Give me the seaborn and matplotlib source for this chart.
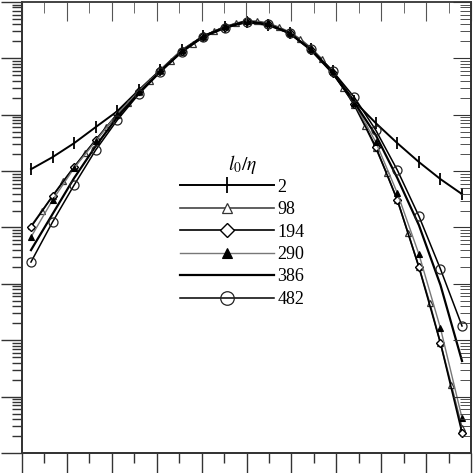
import numpy as np
import pandas as pd
import matplotlib
matplotlib.use('Agg')
import matplotlib.pyplot as plt
import matplotlib.ticker as ticker
import seaborn as sns

# x positions of the markers (coarse grid and the finer grid used by l0/eta = 98)
x_coarse = [-4.8, -4.32, -3.84, -3.36, -2.88, -2.4, -1.92, -1.44, -0.96, -0.48, 0.0,
            0.48, 0.96, 1.44, 1.92, 2.4, 2.88, 3.36, 3.84, 4.32, 4.8]
x_fine = [-4.8, -4.56, -4.32, -4.08, -3.84, -3.6, -3.36, -3.12, -2.88, -2.64, -2.4,
          -2.16, -1.92, -1.68, -1.44, -1.2, -0.96, -0.72, -0.48, -0.24, 0.0,
          0.24, 0.48, 0.72, 0.96, 1.2, 1.44, 1.68, 1.92, 2.16, 2.4,
          2.64, 2.88, 3.12, 3.36, 3.6, 3.84, 4.08, 4.32, 4.56, 4.8]

# pdf values
pdf_2 = [1.08e-3, 1.77e-3, 3.13e-3, 6.03e-3, 1.15e-2, 2.73e-2, 6.18e-2, 0.140, 0.248, 0.357, 0.438,
         0.388, 0.280, 0.146, 0.0593, 0.0174, 7.10e-3, 3.13e-3, 1.45e-3, 7.21e-4, 3.91e-4]
pdf_98 = [1.06e-4, 1.95e-4, 3.61e-4, 6.65e-4, 1.18e-3, 2.08e-3, 3.55e-3, 6.03e-3, 9.84e-3, 1.61e-2,
          2.52e-2, 3.94e-2, 5.93e-2, 8.91e-2, 0.129, 0.179, 0.238, 0.303, 0.357, 0.421, 0.457,
          0.457, 0.421, 0.357, 0.292, 0.219, 0.152, 0.0968, 0.0569, 0.0296, 0.0148,
          6.28e-3, 2.56e-3, 9.23e-4, 3.06e-4, 7.96e-5, 1.99e-5, 4.57e-6, 8.91e-7, 1.61e-7, 2.77e-8]
pdf_194 = [1.02e-4, 3.61e-4, 1.18e-3, 3.55e-3, 1.03e-2, 2.62e-2, 0.0618, 0.134, 0.248, 0.357, 0.457,
           0.404, 0.280, 0.140, 0.0547, 0.0154, 2.67e-3, 3.06e-4, 1.99e-5, 8.91e-7, 2.27e-8]
pdf_290 = [6.76e-5, 3.06e-4, 1.13e-3, 3.40e-3, 1.03e-2, 2.62e-2, 0.0618, 0.140, 0.248, 0.372, 0.457,
           0.421, 0.280, 0.146, 0.0569, 0.0161, 3.27e-3, 4.07e-4, 3.37e-5, 1.64e-6, 4.18e-8]
pdf_386 = [3.97e-5, 1.73e-4, 7.52e-4, 2.77e-3, 9.06e-3, 2.42e-2, 0.0593, 0.134, 0.248, 0.357, 0.457,
           0.404, 0.280, 0.140, 0.0547, 0.0167, 4.35e-3, 7.52e-4, 1.10e-4, 9.53e-6, 4.28e-7]
pdf_482 = [2.44e-5, 1.25e-4, 5.65e-4, 2.36e-3, 8.02e-3, 2.32e-2, 0.0569, 0.129, 0.238, 0.343, 0.438,
           0.404, 0.280, 0.146, 0.0593, 2.05e-2, 5.33e-3, 1.04e-3, 1.59e-4, 1.83e-5, 1.79e-6]

plt.rcParams['mathtext.fontset'] = 'stix'

fig = plt.figure(figsize=(4.74, 4.73), dpi=100)
ax = fig.add_axes([22 / 474, 1 - 453 / 473, 449 / 474, 451 / 473])

# one call per curve, each has its own marker style
sns.lineplot(x=x_coarse, y=pdf_2, ax=ax, color='black', lw=1.4, marker='|',
             markersize=8, markeredgewidth=1.3, markeredgecolor='black', label='2')
sns.lineplot(x=x_fine, y=pdf_98, ax=ax, color='#444444', lw=1.2, marker='^',
             markersize=5, markeredgewidth=0.9, markerfacecolor='white',
             markeredgecolor='#333333', label='98')
sns.lineplot(x=x_coarse, y=pdf_194, ax=ax, color='black', lw=1.2, marker='D',
             markersize=4.5, markeredgewidth=1.0, markerfacecolor='white',
             markeredgecolor='black', label='194')
sns.lineplot(x=x_coarse, y=pdf_290, ax=ax, color='#777777', lw=1.0, marker='^',
             markersize=5, markeredgewidth=0.8, markerfacecolor='black',
             markeredgecolor='black', label='290')
sns.lineplot(x=x_coarse, y=pdf_386, ax=ax, color='black', lw=1.6, label='386')
sns.lineplot(x=x_coarse, y=pdf_482, ax=ax, color='black', lw=1.1, marker='o',
             markersize=6.5, markeredgewidth=0.9, markerfacecolor='none',
             markeredgecolor='#222222', label='482')

ax.set_yscale('log')
ax.set_xlim(-5, 5)
ax.set_ylim(1e-8, 1)
ax.set_xlabel('')
ax.set_ylabel('')

ax.xaxis.set_major_locator(ticker.MultipleLocator(1))
ax.xaxis.set_minor_locator(ticker.MultipleLocator(0.5))
ax.yaxis.set_major_locator(ticker.LogLocator(base=10, numticks=20))
ax.yaxis.set_minor_locator(ticker.LogLocator(base=10, subs=np.arange(2, 10), numticks=100))
ax.tick_params(which='both', direction='out', labelbottom=False, labelleft=False,
               width=1.0, color='#333333')
ax.tick_params(which='major', length=15)
ax.tick_params(which='minor', length=7.5)

# top and right ticks point inward
axt = ax.twiny()
axt.set_xlim(ax.get_xlim())
axt.xaxis.set_major_locator(ticker.MultipleLocator(1))
axt.xaxis.set_minor_locator(ticker.MultipleLocator(0.5))
axt.tick_params(which='both', direction='in', labeltop=False, color='#555555')
axt.tick_params(which='major', length=14)
axt.tick_params(which='minor', length=8)

axr = ax.twinx()
axr.set_yscale('log')
axr.set_ylim(ax.get_ylim())
axr.yaxis.set_major_locator(ticker.LogLocator(base=10, numticks=20))
axr.yaxis.set_minor_locator(ticker.LogLocator(base=10, subs=np.arange(2, 10), numticks=100))
axr.tick_params(which='both', direction='in', labelright=False, color='#333333')
axr.tick_params(which='major', length=13)
axr.tick_params(which='minor', length=8)

for a in (ax, axt, axr):
    for s in a.spines.values():
        s.set_linewidth(1.1)
        s.set_color('#333333')
axt.spines['top'].set_color('#999999')

handles, labels = ax.get_legend_handles_labels()
leg = ax.legend(handles, labels, title=r'$l_0/\eta$', loc='upper left',
                bbox_to_anchor=(180 / 474, 1 - 153 / 473), bbox_transform=fig.transFigure,
                frameon=False, handlelength=5.2, handletextpad=0.2, labelspacing=0.3,
                borderpad=0, borderaxespad=0, markerscale=1.5,
                prop={'family': 'Liberation Serif', 'size': 13})
leg.get_title().set_fontsize(14)
leg._legend_box.sep = 2

fig.savefig('out.png', dpi=100)
